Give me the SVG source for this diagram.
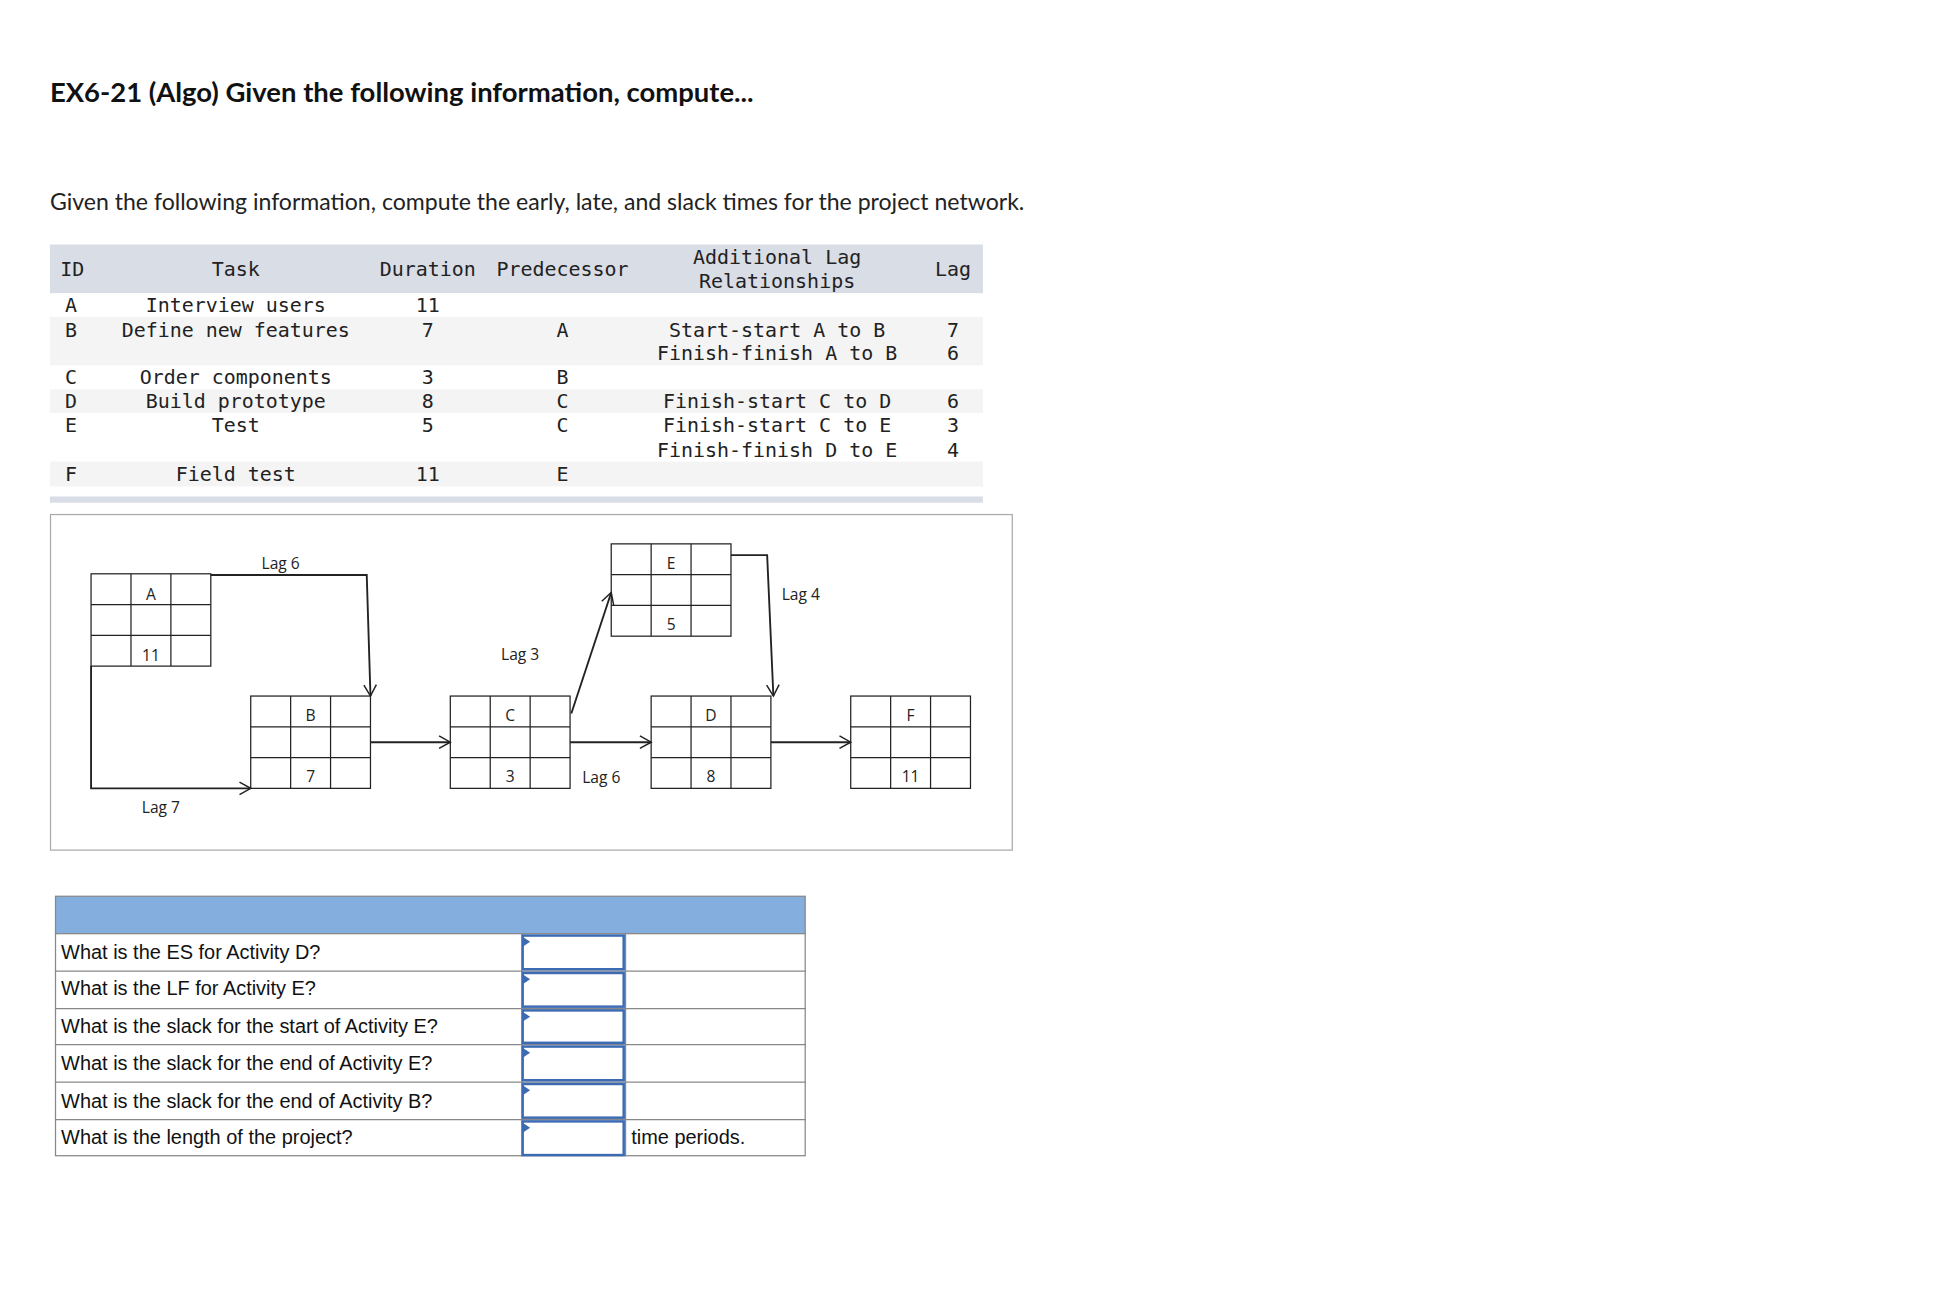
<svg xmlns="http://www.w3.org/2000/svg" width="1946" height="1296" viewBox="0 0 1946 1296">
<defs>
<style>
.m{font-family:"DejaVu Sans Mono","Liberation Mono",monospace;font-size:16px;fill:#222;text-anchor:middle}
.s{font-family:"Open Sans","Liberation Sans",sans-serif;font-size:12.5px;fill:#222;text-anchor:middle}
.q{font-family:"Liberation Sans",Arial,sans-serif;font-size:16px;fill:#111}
.g line,.g rect{stroke:#222;stroke-width:1;fill:none}
.c{stroke:#222;stroke-width:1.5;fill:none}
.ib{fill:#fff;stroke:#3d6bb3;stroke-width:2}
</style>
<marker id="ar" markerWidth="12" markerHeight="12" refX="10" refY="6" orient="auto" markerUnits="userSpaceOnUse"><path d="M1,1 L10,6 L1,11" fill="none" stroke="#222" stroke-width="1.2"/></marker>
</defs>
<rect width="1946" height="1296" fill="#fff"/>
<g transform="scale(1.2474)">
<text x="40" y="82" font-family="Lato,'Liberation Sans',sans-serif" font-weight="bold" font-size="22" fill="#111">EX6-21 (Algo) Given the following information, compute...</text>
<text x="40" y="168" font-family="Lato,'Liberation Sans',sans-serif" font-size="18.5" fill="#222">Given the following information, compute the early, late, and slack times for the project network.</text>
<g id="table">
<rect x="40" y="196" width="748" height="39" fill="#d9dde6"/>
<rect x="40" y="254" width="748" height="39" fill="#f4f4f4"/>
<rect x="40" y="312" width="748" height="19" fill="#f4f4f4"/>
<rect x="40" y="370" width="748" height="20" fill="#f4f4f4"/>
<rect x="40" y="398" width="748" height="5" fill="#d9dde6"/>
<text class="m" x="58" y="221">ID</text><text class="m" x="189" y="221">Task</text><text class="m" x="343" y="221">Duration</text><text class="m" x="451" y="221">Predecessor</text>
<text class="m" x="623" y="212">Additional Lag</text><text class="m" x="623" y="231">Relationships</text><text class="m" x="764" y="221">Lag</text>
<text class="m" x="57" y="250">A</text><text class="m" x="189" y="250">Interview users</text><text class="m" x="343" y="250">11</text>
<text class="m" x="57" y="270">B</text><text class="m" x="189" y="270">Define new features</text><text class="m" x="343" y="270">7</text><text class="m" x="451" y="270">A</text><text class="m" x="623" y="270">Start-start A to B</text><text class="m" x="764" y="270">7</text>
<text class="m" x="623" y="289">Finish-finish A to B</text><text class="m" x="764" y="289">6</text>
<text class="m" x="57" y="308">C</text><text class="m" x="189" y="308">Order components</text><text class="m" x="343" y="308">3</text><text class="m" x="451" y="308">B</text>
<text class="m" x="57" y="327">D</text><text class="m" x="189" y="327">Build prototype</text><text class="m" x="343" y="327">8</text><text class="m" x="451" y="327">C</text><text class="m" x="623" y="327">Finish-start C to D</text><text class="m" x="764" y="327">6</text>
<text class="m" x="57" y="346">E</text><text class="m" x="189" y="346">Test</text><text class="m" x="343" y="346">5</text><text class="m" x="451" y="346">C</text><text class="m" x="623" y="346">Finish-start C to E</text><text class="m" x="764" y="346">3</text>
<text class="m" x="623" y="366">Finish-finish D to E</text><text class="m" x="764" y="366">4</text>
<text class="m" x="57" y="386">F</text><text class="m" x="189" y="386">Field test</text><text class="m" x="343" y="386">11</text><text class="m" x="451" y="386">E</text>
</g>
<rect x="40.5" y="412.5" width="771" height="269" fill="#fff" stroke="#aaa"/>
<g id="nodeA" class="g" transform="translate(73,460)"><rect width="96" height="74"/><line x1="32" y1="0" x2="32" y2="74"/><line x1="64" y1="0" x2="64" y2="74"/><line x1="0" y1="24.7" x2="96" y2="24.7"/><line x1="0" y1="49.3" x2="96" y2="49.3"/><text class="s" x="48" y="21">A</text><text class="s" x="48" y="70">11</text></g>
<g id="nodeB" class="g" transform="translate(201,558)"><rect width="96" height="74"/><line x1="32" y1="0" x2="32" y2="74"/><line x1="64" y1="0" x2="64" y2="74"/><line x1="0" y1="24.7" x2="96" y2="24.7"/><line x1="0" y1="49.3" x2="96" y2="49.3"/><text class="s" x="48" y="20">B</text><text class="s" x="48" y="69">7</text></g>
<g id="nodeC" class="g" transform="translate(361,558)"><rect width="96" height="74"/><line x1="32" y1="0" x2="32" y2="74"/><line x1="64" y1="0" x2="64" y2="74"/><line x1="0" y1="24.7" x2="96" y2="24.7"/><line x1="0" y1="49.3" x2="96" y2="49.3"/><text class="s" x="48" y="20">C</text><text class="s" x="48" y="69">3</text></g>
<g id="nodeD" class="g" transform="translate(522,558)"><rect width="96" height="74"/><line x1="32" y1="0" x2="32" y2="74"/><line x1="64" y1="0" x2="64" y2="74"/><line x1="0" y1="24.7" x2="96" y2="24.7"/><line x1="0" y1="49.3" x2="96" y2="49.3"/><text class="s" x="48" y="20">D</text><text class="s" x="48" y="69">8</text></g>
<g id="nodeE" class="g" transform="translate(490,436)"><rect width="96" height="74"/><line x1="32" y1="0" x2="32" y2="74"/><line x1="64" y1="0" x2="64" y2="74"/><line x1="0" y1="24.7" x2="96" y2="24.7"/><line x1="0" y1="49.3" x2="96" y2="49.3"/><text class="s" x="48" y="20">E</text><text class="s" x="48" y="69">5</text></g>
<g id="nodeF" class="g" transform="translate(682,558)"><rect width="96" height="74"/><line x1="32" y1="0" x2="32" y2="74"/><line x1="64" y1="0" x2="64" y2="74"/><line x1="0" y1="24.7" x2="96" y2="24.7"/><line x1="0" y1="49.3" x2="96" y2="49.3"/><text class="s" x="48" y="20">F</text><text class="s" x="48" y="69">11</text></g>
<g id="connectors">
<polyline class="c" points="169,461 294,461 297,558" marker-end="url(#ar)"/>
<polyline class="c" points="73,534 73,632 201,632" marker-end="url(#ar)"/>
<line class="c" x1="297" y1="595" x2="361" y2="595" marker-end="url(#ar)"/>
<line class="c" x1="457" y1="595" x2="522" y2="595" marker-end="url(#ar)"/>
<line class="c" x1="618" y1="595" x2="682" y2="595" marker-end="url(#ar)"/>
<line class="c" x1="458" y1="572" x2="490" y2="475" marker-end="url(#ar)"/>
<polyline class="c" points="586,445 615,445 620,558" marker-end="url(#ar)"/>
<text class="s" x="225" y="456">Lag  6</text>
<text class="s" x="129" y="652">Lag  7</text>
<text class="s" x="417" y="529">Lag  3</text>
<text class="s" x="482" y="628">Lag  6</text>
<text class="s" x="642" y="481">Lag  4</text>
</g>
<g id="questions">
<rect x="44.5" y="718.5" width="601" height="30" fill="#84aede" stroke="#888"/>
<rect x="44.5" y="748.5" width="601" height="178" fill="#fff" stroke="#888"/>
<g stroke="#888"><line x1="44" y1="778.5" x2="646" y2="778.5"/><line x1="44" y1="808.5" x2="646" y2="808.5"/><line x1="44" y1="837.5" x2="646" y2="837.5"/><line x1="44" y1="867.5" x2="646" y2="867.5"/><line x1="44" y1="897.5" x2="646" y2="897.5"/><line x1="418.5" y1="748" x2="418.5" y2="927"/><line x1="501.5" y1="748" x2="501.5" y2="927"/></g>
<g><rect class="ib" x="419" y="750" width="81" height="27"/><rect class="ib" x="419" y="780" width="81" height="27"/><rect class="ib" x="419" y="810" width="81" height="26"/><rect class="ib" x="419" y="839" width="81" height="27"/><rect class="ib" x="419" y="869" width="81" height="27"/><rect class="ib" x="419" y="899" width="81" height="27"/></g>
<g fill="#3d6bb3"><path d="M419,751 l6,4 -6,4z"/><path d="M419,781 l6,4 -6,4z"/><path d="M419,811 l6,4 -6,4z"/><path d="M419,840 l6,4 -6,4z"/><path d="M419,870 l6,4 -6,4z"/><path d="M419,900 l6,4 -6,4z"/></g>
<text class="q" x="49" y="769">What is the ES for Activity D?</text>
<text class="q" x="49" y="798">What is the LF for Activity E?</text>
<text class="q" x="49" y="828">What is the slack for the start of Activity E?</text>
<text class="q" x="49" y="858">What is the slack for the end of Activity E?</text>
<text class="q" x="49" y="888">What is the slack for the end of Activity B?</text>
<text class="q" x="49" y="917">What is the length of the project?</text>
<text class="q" x="506" y="917">time periods.</text>
</g>
</g>
</svg>
